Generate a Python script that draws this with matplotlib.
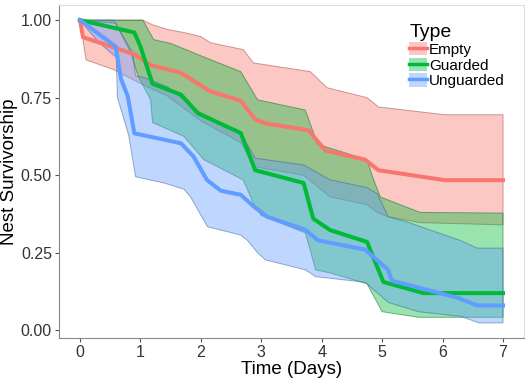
import numpy as np
import matplotlib
matplotlib.use('Agg')
from matplotlib import pyplot as plt
from matplotlib.patches import Patch
from matplotlib.lines import Line2D
from matplotlib.colors import to_rgba

plt.rcParams['font.family'] = ['Liberation Sans', 'DejaVu Sans']

types = ['Empty', 'Guarded', 'Unguarded']
colors = ['#F8766D', '#00BA38', '#619CFF']

# survival curves
empty_x = [0, 0.05, 0.9, 1.17, 1.67, 2.16, 2.66, 2.9, 3.07, 3.78, 4.06, 4.72, 4.94, 6.04, 7]
empty_y = [1, 0.945, 0.89, 0.855, 0.83, 0.77, 0.74, 0.68, 0.667, 0.645, 0.58, 0.55, 0.516, 0.484, 0.484]
empty_up_x = [0, 1.04, 1.2, 1.45, 1.72, 2.0, 2.16, 2.7, 2.87, 3.81, 4.09, 4.75, 4.94, 6.04, 7]
empty_up_y = [1, 1, 0.985, 0.97, 0.96, 0.947, 0.927, 0.905, 0.862, 0.834, 0.782, 0.75, 0.72, 0.695, 0.695]
empty_lo_x = [0, 0.1, 0.56, 1.06, 1.45, 2.0, 2.66, 2.9, 3.7, 4.14, 4.75, 4.92, 5.1, 5.63, 7]
empty_lo_y = [1, 0.872, 0.84, 0.79, 0.755, 0.675, 0.605, 0.527, 0.5, 0.43, 0.405, 0.38, 0.366, 0.347, 0.34]

guard_x = [0, 0.68, 0.9, 1.0, 1.2, 1.67, 1.95, 2.66, 2.9, 3.7, 3.86, 4.14, 4.75, 5.02, 5.68, 7]
guard_y = [1, 0.97, 0.96, 0.915, 0.795, 0.76, 0.70, 0.636, 0.516, 0.475, 0.36, 0.323, 0.285, 0.156, 0.12, 0.12]
guard_up_x = [0, 1.04, 1.22, 1.5, 2.0, 2.66, 2.94, 3.73, 3.93, 4.75, 4.85, 4.97, 5.63, 7]
guard_up_y = [1, 1, 0.937, 0.925, 0.885, 0.834, 0.743, 0.71, 0.60, 0.55, 0.49, 0.43, 0.38, 0.378]
guard_lo_x = [0, 0.59, 0.84, 0.96, 1.17, 1.2, 1.72, 2.05, 2.7, 2.87, 3.0, 3.73, 3.9, 4.14, 4.75, 5.0, 5.6, 7]
guard_lo_y = [1, 0.99, 0.895, 0.82, 0.743, 0.67, 0.625, 0.55, 0.485, 0.41, 0.37, 0.314, 0.195, 0.185, 0.15, 0.06, 0.042, 0.042]

unguard_x = [0, 0.59, 0.68, 0.79, 0.9, 1.67, 1.88, 2.1, 2.33, 2.66, 2.87, 3.1, 3.73, 3.94, 4.72, 5.1, 5.16, 6.25, 6.58, 7]
unguard_y = [1, 0.915, 0.81, 0.755, 0.635, 0.603, 0.56, 0.485, 0.45, 0.437, 0.40, 0.366, 0.324, 0.29, 0.26, 0.195, 0.16, 0.105, 0.08, 0.08]
unguard_up_x = [0, 0.56, 0.87, 0.92, 1.06, 1.45, 2.0, 2.66, 2.9, 3.7, 4.14, 4.75, 4.92, 5.1, 5.4, 6.29, 6.57, 7]
unguard_up_y = [1, 1, 0.895, 0.82, 0.815, 0.785, 0.70, 0.636, 0.555, 0.533, 0.485, 0.46, 0.44, 0.366, 0.35, 0.29, 0.265, 0.265]
unguard_lo_x = [0, 0.3, 0.6, 0.62, 0.73, 0.81, 0.92, 1.39, 1.72, 1.83, 2.11, 2.66, 2.77, 2.94, 3.07, 3.73, 3.9, 4.72, 5.1, 5.6, 6.3, 6.6, 7]
unguard_lo_y = [1, 0.93, 0.88, 0.75, 0.68, 0.625, 0.495, 0.475, 0.455, 0.43, 0.334, 0.307, 0.29, 0.25, 0.227, 0.195, 0.173, 0.155, 0.09, 0.06, 0.045, 0.024, 0.024]

curves = [
    (empty_x, empty_y, empty_up_x, empty_up_y, empty_lo_x, empty_lo_y),
    (guard_x, guard_y, guard_up_x, guard_up_y, guard_lo_x, guard_lo_y),
    (unguard_x, unguard_y, unguard_up_x, unguard_up_y, unguard_lo_x, unguard_lo_y),
]

fig = plt.figure(figsize=(5.30, 3.79), dpi=100)
ax = fig.add_axes([0.111, 0.108, 0.878, 0.879])

for (cx, cy, ux, uy, lx, ly), col in zip(curves, colors):
    px = np.r_[ux, lx[::-1]]
    py = np.r_[uy, ly[::-1]]
    edge = tuple(np.array(to_rgba(col)[:3]) * 0.6) + (0.5,)
    ax.fill(px, py, facecolor=to_rgba(col, 0.4), edgecolor=edge, linewidth=0.7)

for (cx, cy, ux, uy, lx, ly), col in zip(curves, colors):
    ax.plot(cx, cy, color=col, linewidth=2.9, solid_joinstyle='round')

ax.set_xlim(-0.35, 7.35)
ax.set_ylim(-0.025, 1.049)
ax.set_xticks(range(8))
ax.set_yticks([0, 0.25, 0.5, 0.75, 1.0])
ax.set_yticklabels(['0.00', '0.25', '0.50', '0.75', '1.00'])
ax.tick_params(length=3, width=0.8, color='#555555', labelcolor='#333333', labelsize=11.5, pad=2)
ax.set_xlabel('Time (Days)', fontsize=13.5, labelpad=1)
ax.set_ylabel('Nest Survivorship', fontsize=13.5, labelpad=2)

for s in ['top', 'right']:
    ax.spines[s].set_color('#dddddd')
for s in ['left', 'bottom']:
    ax.spines[s].set_color('#888888')
for s in ax.spines.values():
    s.set_linewidth(0.8)

handles = [(Patch(facecolor=to_rgba(c, 0.4), edgecolor='none'),
            Line2D([], [], color=c, linewidth=2.5)) for c in colors]
leg = ax.legend(handles, types, title='Type', loc='upper left',
                bbox_to_anchor=(0.73, 0.975), frameon=False, fontsize=11,
                title_fontsize=14, handlelength=1.15, handleheight=1.0,
                handletextpad=0.15, labelspacing=0.05, borderaxespad=0.3)
leg._legend_box.align = 'left'

fig.savefig('out.png', dpi=100)
